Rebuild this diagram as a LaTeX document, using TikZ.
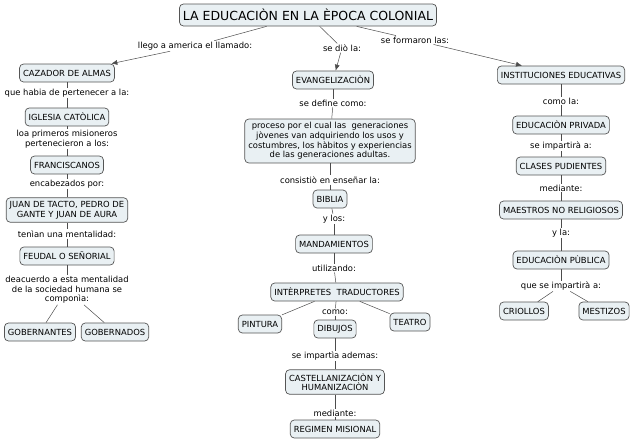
\documentclass[tikz,border=0pt]{standalone}
\usepackage{fontspec}
\setmainfont{DejaVu Sans}
\usetikzlibrary{arrows.meta}
\definecolor{boxfill}{HTML}{E9F0F3}
\definecolor{boxline}{HTML}{555555}
\begin{document}
\begin{tikzpicture}[x=1pt,y=-1pt,
 c/.style={draw=boxline,fill=boxfill,rounded corners=4pt,line width=0.7pt,font=\fontsize{8.4}{9.6}\selectfont,align=center,inner sep=3.5pt,minimum height=18pt},
 l/.style={font=\fontsize{8.4}{9.6}\selectfont,align=center,inner sep=1pt,fill=white},
 ln/.style={draw=black!70,line width=0.5pt},
 ar/.style={ln,-{Latex[length=6pt,width=5pt]}}]
\useasboundingbox (0,0) rectangle (640,440);
\node[c,font=\fontsize{12.5}{14}\selectfont,minimum width=232pt,minimum height=22pt] (t) at (308,15) {LA EDUCACIÒN EN LA ÈPOCA COLONIAL};
\node[l] (l1) at (195,46) {llego a america el llamado:};
\node[l] (l2) at (342,48) {se diò la:};
\node[l] (l3) at (415,40) {se formaron las:};
% left
\node[c] (a1) at (67,73) {CAZADOR DE ALMAS};
\node[l] (la1) at (67,93) {que habia de pertenecer a la:};
\node[c] (a2) at (67,117) {IGLESIA CATÒLICA};
\node[l] (la2) at (67,139) {loa primeros misioneros\\pertenecieron a los:};
\node[c] (a3) at (67,165) {FRANCISCANOS};
\node[l] (la3) at (67,184) {encabezados por:};
\node[c] (a4) at (67,210) {JUAN DE TACTO, PEDRO DE\\GANTE Y JUAN DE AURA};
\node[l] (la4) at (67,234) {tenìan una mentalidad:};
\node[c] (a5) at (67,256) {FEUDAL O SEÑORIAL};
\node[l] (la5) at (67,290) {deacuerdo a esta mentalidad\\de la sociedad humana se\\componìa:};
\node[c] (a6) at (40,332) {GOBERNANTES};
\node[c] (a7) at (115,332) {GOBERNADOS};
% middle
\node[c] (m1) at (333,80) {EVANGELIZACIÒN};
\node[l] (lm1) at (333,103) {se define como:};
\node[c] (m2) at (330,141) {proceso por el cual las \ generaciones\\jòvenes van adquiriendo los usos y\\costumbres, los hàbitos y experiencias\\de las generaciones adultas.};
\node[l] (lm2) at (330,180) {consistiò en enseñar la:};
\node[c] (m3) at (330,199) {BIBLIA};
\node[l] (lm3) at (334,219) {y los:};
\node[c] (m4) at (334,244) {MANDAMIENTOS};
\node[l] (lm4) at (334,268) {utilizando:};
\node[c] (m5) at (337,292) {INTÈRPRETES \ TRADUCTORES};
\node[c] (m6) at (260,324) {PINTURA};
\node[l] (lm5) at (335,312) {como:};
\node[c] (m7) at (335,329) {DIBUJOS};
\node[c] (m8) at (410,322) {TEATRO};
\node[l] (lm6) at (335,356) {se impartìa ademas:};
\node[c] (m9) at (335,382) {CASTELLANIZACIÒN Y\\HUMANIZACIÒN};
\node[l] (lm7) at (335,413) {mediante:};
\node[c] (m10) at (335,429) {REGIMEN MISIONAL};
% right
\node[c] (r1) at (561,75) {INSTITUCIONES EDUCATIVAS};
\node[l] (lr1) at (561,101) {como la:};
\node[c] (r2) at (561,125) {EDUCACIÒN PRIVADA};
\node[l] (lr2) at (561,146) {se impartirà a:};
\node[c] (r3) at (561,166) {CLASES PUDIENTES};
\node[l] (lr3) at (561,188) {mediante:};
\node[c] (r4) at (561,210) {MAESTROS NO RELIGIOSOS};
\node[l] (lr4) at (561,233) {y la:};
\node[c] (r5) at (561,260) {EDUCACIÒN PÙBLICA};
\node[l] (lr5) at (561,286) {que se impartirà a:};
\node[c] (r6) at (524,311) {CRIOLLOS};
\node[c] (r7) at (604,311) {MESTIZOS};
% connectors
\draw[ln] (t) -- (l1); \draw[ar] (l1) -- (a1);
\draw[ln] (t) -- (l2); \draw[ar] (l2) -- (m1);
\draw[ln] (t) -- (l3); \draw[ar] (l3) -- (r1);
\foreach \a/\b in {a1/la1,la1/a2,a2/la2,la2/a3,a3/la3,la3/a4,a4/la4,la4/a5,a5/la5,la5/a6,la5/a7,
 m1/lm1,lm1/m2,m2/lm2,lm2/m3,m3/lm3,lm3/m4,m4/lm4,lm4/m5,m5/m6,m5/lm5,lm5/m7,m5/m8,m7/lm6,lm6/m9,m9/lm7,lm7/m10,
 r1/lr1,lr1/r2,r2/lr2,lr2/r3,r3/lr3,lr3/r4,r4/lr4,lr4/r5,r5/lr5,lr5/r6,lr5/r7}
 \draw[ln] (\a) -- (\b);
\end{tikzpicture}
\end{document}
